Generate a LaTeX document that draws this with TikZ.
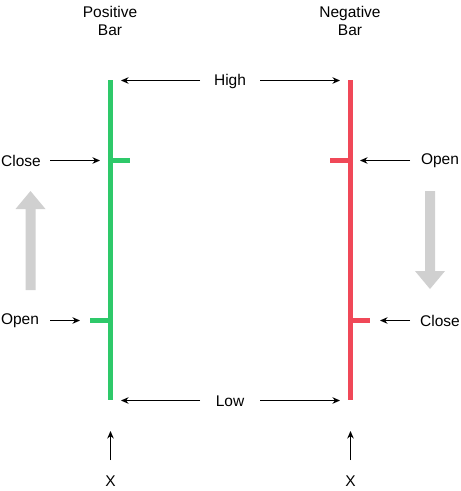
\documentclass[tikz,border=0pt]{standalone}
\usepackage{fontspec}
\setmainfont{Liberation Sans}
\usetikzlibrary{arrows.meta}
\definecolor{posgreen}{RGB}{46,201,106}
\definecolor{negred}{RGB}{240,72,88}
\definecolor{bigarrow}{RGB}{208,208,208}
\tikzset{
  lbl/.style={inner sep=0pt, font=\fontsize{15.5}{18}\selectfont, align=center},
  pbar/.style={draw=posgreen, line width=5pt},
  nbar/.style={draw=negred, line width=5pt},
  ptr/.style={draw=black, line width=1.1pt, -{Stealth[length=7.5pt,width=6.5pt]}},
  block/.style={fill=bigarrow, draw=none}
}
\begin{document}
\begin{tikzpicture}[x=1pt,y=-1pt]
\useasboundingbox (0,0) rectangle (461,491);
% titles
\node[lbl] (ptitle) at (110,21) {Positive\\Bar};
\node[lbl] (ntitle) at (350,21) {Negative\\Bar};
% bars
\coordinate (ptop) at (110.5,80);
\coordinate (pbot) at (110.5,400);
\coordinate (ntop) at (350,80);
\coordinate (nbot) at (350,400);
\draw[pbar] (ptop) -- (pbot);
\draw[nbar] (ntop) -- (nbot);
% ticks
\coordinate (pclose) at (130,160);
\coordinate (popen) at (90,320);
\coordinate (nopen) at (330,160);
\coordinate (nclose) at (370,320);
\draw[pbar] (110.5,160) -- (pclose);
\draw[pbar] (popen) -- (110.5,320);
\draw[nbar] (nopen) -- (350,160);
\draw[nbar] (350,320) -- (nclose);
% High / Low
\node[lbl] (high) at (230,81) {High};
\node[lbl] (low) at (230,401) {Low};
\coordinate (hl) at (121,80.5);
\coordinate (hr) at (340,80.5);
\coordinate (ll) at (121,400.5);
\coordinate (lr) at (340,400.5);
\draw[ptr] (200,80.5) -- (hl);
\draw[ptr] (260,80.5) -- (hr);
\draw[ptr] (200,400.5) -- (ll);
\draw[ptr] (260,400.5) -- (lr);
% left labels
\node[lbl] (lclose) at (21,161) {Close};
\node[lbl] (lopen) at (20,321) {Open};
\coordinate (lca) at (100,160.5);
\coordinate (loa) at (80,320.5);
\draw[ptr] (50,160.5) -- (lca);
\draw[ptr] (50,320.5) -- (loa);
% right labels
\node[lbl] (ropen) at (440,161) {Open};
\node[lbl] (rclose) at (440,321) {Close};
\coordinate (roa) at (360,160.5);
\coordinate (rca) at (380,320.5);
\draw[ptr] (410,160.5) -- (roa);
\draw[ptr] (410,320.5) -- (rca);
% X labels
\node[lbl] (px) at (110.5,481) {X};
\node[lbl] (nx) at (350.5,481) {X};
\coordinate (pxa) at (110.5,431);
\coordinate (nxa) at (350.5,431);
\draw[ptr] (110.5,460) -- (pxa);
\draw[ptr] (350.5,460) -- (nxa);
% big gray arrows
\fill[block] (25.5,290) -- (35.5,290) -- (35.5,209) -- (45.5,209) -- (30.5,191) -- (15.5,209) -- (25.5,209) -- cycle;
\fill[block] (425,191) -- (435,191) -- (435,271) -- (445,271) -- (430,289) -- (415,271) -- (425,271) -- cycle;
\end{tikzpicture}
\end{document}
